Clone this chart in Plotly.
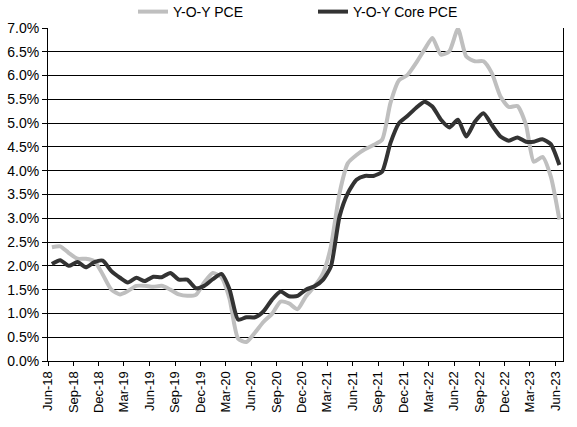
import pandas as pd
import plotly.graph_objects as go

# Monthly observations, Jun-2018 .. Jun-2023 (mid-month positions)
months = pd.date_range("2018-06-01", periods=61, freq="MS") + pd.Timedelta(days=14)

pce = [2.39, 2.41, 2.27, 2.15, 2.15, 2.10, 1.82, 1.50, 1.40, 1.47, 1.58, 1.58,
       1.56, 1.58, 1.50, 1.40, 1.37, 1.39, 1.65, 1.85, 1.76, 1.31, 0.47, 0.40,
       0.60, 0.82, 0.99, 1.25, 1.21, 1.09, 1.36, 1.57, 1.85, 2.41, 3.53, 4.16,
       4.33, 4.45, 4.54, 4.65, 5.42, 5.90, 6.01, 6.26, 6.55, 6.79, 6.44, 6.51,
       6.98, 6.40, 6.30, 6.30, 6.05, 5.56, 5.34, 5.36, 4.96, 4.19, 4.29, 3.88,
       2.97]

core = [2.04, 2.12, 2.00, 2.08, 1.97, 2.08, 2.11, 1.89, 1.75, 1.65, 1.75, 1.68,
        1.77, 1.76, 1.85, 1.71, 1.71, 1.53, 1.58, 1.72, 1.83, 1.51, 0.87, 0.92,
        0.92, 1.04, 1.29, 1.46, 1.36, 1.37, 1.50, 1.57, 1.71, 1.99, 3.04, 3.53,
        3.81, 3.89, 3.89, 3.98, 4.58, 5.00, 5.15, 5.32, 5.45, 5.35, 5.07, 4.91,
        5.07, 4.72, 5.03, 5.21, 4.96, 4.72, 4.63, 4.70, 4.61, 4.61, 4.66, 4.56,
        4.12]

series_names = ["Y-O-Y PCE", "Y-O-Y Core PCE"]
series_colors = ["#BFBFBF", "#333333"]

fig = go.Figure()
for name, vals, col in zip(series_names, [pce, core], series_colors):
    fig.add_trace(go.Scatter(
        x=months, y=vals, mode="lines", name=name,
        line=dict(color=col, width=4, shape="spline", smoothing=0.6),
    ))

font = "Liberation Sans, Arial, sans-serif"
fig.update_layout(
    width=577, height=427,
    margin=dict(l=48, r=14, t=28, b=66, pad=0, autoexpand=False),
    paper_bgcolor="white", plot_bgcolor="white",
    font=dict(family=font, size=13, color="#000000"),
    showlegend=True,
    legend=dict(orientation="h", x=0.165, xanchor="left", y=1.0, yanchor="bottom",
                font=dict(family=font, size=14, color="#000000"),
                itemwidth=30, bgcolor="rgba(0,0,0,0)", traceorder="normal",
                entrywidth=135, entrywidthmode="pixels"),
    xaxis=dict(
        type="date", automargin=False,
        range=["2018-06-01", "2023-06-28"],
        tick0="2018-06-01", dtick="M3", tickformat="%b-%y",
        tickangle=-90, ticks="outside", ticklen=4, tickcolor="#000000",
        showgrid=False, showline=True, linecolor="#000000", linewidth=1,
        mirror=False, zeroline=False,
        tickfont=dict(family=font, size=13, color="#000000"),
    ),
    yaxis=dict(
        automargin=False,
        range=[0, 7.0], dtick=0.5, tickformat=".1f", ticksuffix="%",
        ticks="outside", ticklen=5, tickcolor="#000000",
        showgrid=True, gridcolor="#000000", gridwidth=1,
        showline=True, linecolor="#000000", linewidth=1, mirror=True,
        zeroline=False,
        tickfont=dict(family=font, size=14, color="#000000"),
    ),
)

fig.write_html("out.html",
               config={"displayModeBar": False},
               post_script="document.body.style.margin='0px';document.body.style.overflow='hidden';")
